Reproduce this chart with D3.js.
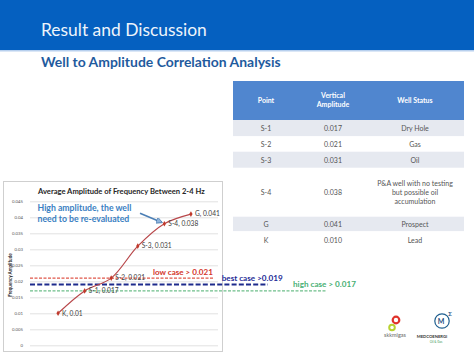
<!DOCTYPE html>
<html><head><meta charset="utf-8">
<script src="https://cdn.jsdelivr.net/npm/d3@7/dist/d3.min.js"></script>
<style>html,body{margin:0;padding:0;background:#fff;overflow:hidden}svg{display:block;font-family:Lato,"Open Sans",sans-serif}</style>
</head><body>
<script>
// ---- data ----
const slideTitle = "Result and Discussion";
const slideSubtitle = "Well to Amplitude Correlation Analysis";
const chartTitle = "Average Amplitude of Frequency Between 2-4 Hz";
const yAxisTitle = "Frequency Amplitude";
const points = ["K", "S-1", "S-2", "S-3", "S-4", "G"];
const pointX = [1, 2, 3, 4, 5, 6];
const amplitude = [0.010, 0.017, 0.021, 0.031, 0.038, 0.041];
const yTicks = [0, 0.005, 0.01, 0.015, 0.02, 0.025, 0.03, 0.035, 0.04, 0.045];
const caseNames = ["low case > 0.021", "best case >0.019", "high case > 0.017"];
const caseValues = [0.021, 0.019, 0.017];
const annotation = ["High amplitude, the well", "need to be re-evaluated"];
const tableHeader = [["Point"], ["Vertical", "Amplitude"], ["Well Status"]];
const tablePoints = ["S-1", "S-2", "S-3", "S-4", "G", "K"];
const tableAmplitude = ["0.017", "0.021", "0.031", "0.038", "0.041", "0.010"];
const tableStatus = [["Dry Hole"], ["Gas"], ["Oil"], ["P&A well with no testing", "but possible oil", "accumulation"], ["Prospect"], ["Lead"]];

// ---- drawing ----
const W = 474, H = 355;
const svg = d3.select("body").append("svg").attr("width", W).attr("height", H);

function fit(sel, w) {
  const n = sel.node();
  const cur = n.getComputedTextLength();
  const fs = parseFloat(sel.attr("font-size"));
  if (cur > 0) sel.attr("font-size", fs * w / cur);
  return sel;
}

// header
svg.append("rect").attr("x", 0).attr("y", 0).attr("width", W).attr("height", 50).attr("fill", "#0560c0");
svg.append("rect").attr("x", 0).attr("y", 50).attr("width", W).attr("height", 1.5).attr("fill", "#b8d0ee");
fit(svg.append("text").attr("x", 41).attr("y", 36).attr("font-size", 18).attr("fill", "#eef4fb").text(slideTitle), 166);
fit(svg.append("text").attr("x", 41).attr("y", 67).attr("font-size", 13).attr("font-weight", "bold").attr("fill", "#1f5b9e").text(slideSubtitle), 240);

// ---- table ----
const tX = 233, tW = 231;
const colCenters = [266, 333, 415];
const rowTops = [120, 136.7, 151.7, 168.3, 216.7, 231.7];
const rowBottoms = [136.7, 151.7, 168.3, 216.7, 231.7, 248.3];
const tg = svg.append("g");
tg.append("rect").attr("x", tX).attr("y", 81).attr("width", tW).attr("height", 39).attr("fill", "#5086cf");
tableHeader.forEach((lines, i) => {
  lines.forEach((l, j) => {
    tg.append("text").attr("x", colCenters[i]).attr("y", 100 + (j - (lines.length - 1) / 2) * 9 + 2.5)
      .attr("text-anchor", "middle").attr("font-size", 7).attr("font-weight", "bold").attr("fill", "#ffffff").text(l);
  });
});
tablePoints.forEach((p, i) => {
  const top = rowTops[i], bot = rowBottoms[i], mid = (top + bot) / 2;
  tg.append("rect").attr("x", tX).attr("y", top).attr("width", tW).attr("height", bot - top - 0.6)
    .attr("fill", i % 2 === 0 ? "#e6e9f0" : "#ffffff");
  const cells = [[p], [tableAmplitude[i]], tableStatus[i]];
  cells.forEach((lines, c) => {
    lines.forEach((l, j) => {
      tg.append("text").attr("x", colCenters[c]).attr("y", mid + (j - (lines.length - 1) / 2) * 9.3 + 2.5)
        .attr("text-anchor", "middle").attr("font-size", 7).attr("fill", "#555555").text(l);
    });
  });
});

// ---- chart ----
const cg = svg.append("g");
cg.append("rect").attr("x", 3.5).attr("y", 181.5).attr("width", 219).attr("height", 170)
  .attr("fill", "#ffffff").attr("stroke", "#cfcfcf").attr("stroke-width", 1);

const x = d3.scaleLinear().domain([0, 7]).range([31.5, 217.5]);
const y = d3.scaleLinear().domain([0, 0.045]).range([345.3, 201.3]);
const gridX0 = 30, gridX1 = 218;

// gridlines + tick labels via axis
const yAxis = d3.axisLeft(y).tickValues(yTicks).tickSize(-(gridX1 - gridX0)).tickPadding(7)
  .tickFormat(d => d === 0 ? "0" : String(+d.toFixed(3)));
const ga = cg.append("g").attr("transform", `translate(${gridX0},0)`).call(yAxis);
ga.select(".domain").remove();
ga.selectAll(".tick line").attr("stroke", "#d9d9d9").attr("stroke-width", 0.8);
ga.selectAll(".tick text").attr("font-size", 4.3).attr("fill", "#555").attr("font-family", "Lato, sans-serif");

cg.append("text").attr("transform", `translate(12,275) rotate(-90)`).attr("text-anchor", "middle")
  .attr("font-size", 4.6).attr("font-weight", "bold").attr("fill", "#222").text(yAxisTitle);

fit(cg.append("text").attr("x", 38).attr("y", 194).attr("font-size", 8.5).attr("font-weight", "bold").attr("fill", "#262626").text(chartTitle), 167);

// case lines
const caseColors = ["#e0574a", "#1d2a8c", "#6fbf8b"];
const caseEnds = [213, 268, 327];
const caseDash = ["3,1.5", "5,2.2", "3,1.5"];
const caseWidths = [1.2, 2, 1.2];
caseValues.forEach((v, i) => {
  cg.append("line").attr("x1", gridX0).attr("x2", caseEnds[i]).attr("y1", y(v)).attr("y2", y(v))
    .attr("stroke", caseColors[i]).attr("stroke-width", caseWidths[i]).attr("stroke-dasharray", caseDash[i]);
});
const caseLabelPos = [[153, 274.5], [221.7, 281], [293, 287]];
const caseLabelWidths = [60, 61, 63];
const caseLabelColors = ["#d3342a", "#232b96", "#48b074"];
caseNames.forEach((n, i) => {
  fit(cg.append("text").attr("x", caseLabelPos[i][0]).attr("y", caseLabelPos[i][1]).attr("font-size", 10)
    .attr("font-weight", "bold").attr("fill", caseLabelColors[i]).text(n), caseLabelWidths[i]);
});

// series line
const data = points.map((p, i) => ({ name: p, x: pointX[i], v: amplitude[i] }));
const line = d3.line().x(d => x(d.x)).y(d => y(d.v)).curve(d3.curveCatmullRom.alpha(0.5));
cg.append("path").datum(data).attr("d", line).attr("fill", "none").attr("stroke", "#b8474a").attr("stroke-width", 1.2);
cg.selectAll(".mk").data(data).join("path").attr("class", "mk")
  .attr("d", d3.symbol(d3.symbolDiamond, 9))
  .attr("transform", d => `translate(${x(d.x)},${y(d.v)})`).attr("fill", "#c0392b");
cg.selectAll(".pl").data(data).join("text").attr("class", "pl")
  .attr("x", d => x(d.x) + 4).attr("y", d => y(d.v) + 2.3)
  .attr("font-size", 6.6).attr("fill", "#404040").text(d => `${d.name}, ${d.v}`);

// annotation
const defs = svg.append("defs");
defs.append("marker").attr("id", "ah").attr("viewBox", "0 0 10 10").attr("refX", 8).attr("refY", 5)
  .attr("markerWidth", 4).attr("markerHeight", 4).attr("orient", "auto")
  .append("path").attr("d", "M0,0L10,5L0,10z").attr("fill", "#8fb4dc").attr("stroke", "#3b6ea5").attr("stroke-width", 1);
const ann0 = fit(cg.append("text").attr("x", 37.5).attr("y", 210.5).attr("font-size", 11).attr("font-weight", "bold")
  .attr("fill", "#3a80c2").text(annotation[0]), 94);
cg.append("text").attr("x", 37.5).attr("y", 222).attr("font-size", ann0.attr("font-size")).attr("font-weight", "bold")
  .attr("fill", "#3a80c2").text(annotation[1]);
const s4 = data[4];
cg.append("line").attr("x1", 140).attr("y1", 213.3).attr("x2", x(s4.x) - 3).attr("y2", y(s4.v) - 1.5)
  .attr("stroke", "#4c7fb5").attr("stroke-width", 1.6).attr("marker-end", "url(#ah)");

// logos
const lg = svg.append("g");
lg.append("circle").attr("cx", 396).attr("cy", 320).attr("r", 3.3).attr("fill", "none").attr("stroke", "#e0332b").attr("stroke-width", 2.2);
lg.append("circle").attr("cx", 392).attr("cy", 327.5).attr("r", 2.8).attr("fill", "none").attr("stroke", "#b9d232").attr("stroke-width", 2);
lg.append("text").attr("x", 395).attr("y", 337).attr("text-anchor", "middle").attr("font-size", 5.5).attr("fill", "#666").text("skkmigas");
lg.append("circle").attr("cx", 442).attr("cy", 321).attr("r", 7.2).attr("fill", "none").attr("stroke", "#1f5f8f").attr("stroke-width", 1.2);
lg.append("text").attr("x", 441).attr("y", 324).attr("text-anchor", "middle").attr("font-size", 7).attr("font-weight", "bold").attr("fill", "#1f4f7f").text("M");
lg.append("text").attr("x", 450).attr("y", 316).attr("text-anchor", "middle").attr("font-size", 6).attr("font-weight", "bold").attr("fill", "#1f4f7f").text("Σ");
lg.append("text").attr("x", 432).attr("y", 338).attr("text-anchor", "middle").attr("font-size", 4.2).attr("font-weight", "bold").attr("fill", "#333").text("MEDCOENERGI");
lg.append("text").attr("x", 436).attr("y", 342.5).attr("text-anchor", "middle").attr("font-size", 3).attr("fill", "#3a9a5a").text("Oil & Gas");
</script>
</body></html>
